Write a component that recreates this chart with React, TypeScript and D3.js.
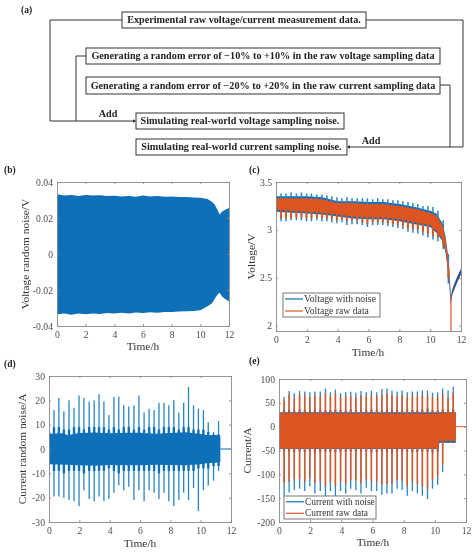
import React, { useEffect, useRef } from "react";
import * as d3 from "d3";

const BLUE = "#0b6fb8";
const ORANGE = "#dd5520";
const serif = "'Liberation Serif', 'Times New Roman', serif";

// pulse times shared by the (c), (d) and (e) traces
const pulseTimes = [0.33, 0.65, 0.98, 1.32, 1.65, 1.98, 2.3, 2.65, 2.98, 3.3, 3.62, 3.95, 4.28, 4.6, 4.93, 5.26, 5.6, 5.93, 6.27, 6.6, 6.93, 7.25, 7.58, 7.9, 8.23, 8.56, 8.88, 9.2, 9.53, 9.85, 10.18, 10.5, 10.85, 11.18];

// (b)
const bTimes = [0, 0.5, 1, 1.5, 2, 2.5, 3, 3.5, 4, 4.5, 5, 5.5, 6, 6.5, 7, 7.5, 8, 8.5, 9, 9.5, 10, 10.5, 10.8, 11, 11.2, 11.35, 11.5, 11.7, 12];
const bTop = [0.0332, 0.0325, 0.0328, 0.0322, 0.0328, 0.0325, 0.0327, 0.0322, 0.0323, 0.032, 0.0322, 0.0318, 0.0325, 0.032, 0.0322, 0.0318, 0.032, 0.0316, 0.0317, 0.0314, 0.0313, 0.0305, 0.029, 0.0275, 0.0245, 0.022, 0.0235, 0.0245, 0.0255];
const bBottom = [-0.0335, -0.033, -0.0337, -0.033, -0.0335, -0.033, -0.0333, -0.0328, -0.033, -0.0326, -0.033, -0.0325, -0.0328, -0.0324, -0.0326, -0.0322, -0.0322, -0.032, -0.0318, -0.0316, -0.0312, -0.029, -0.0275, -0.025, -0.0225, -0.0215, -0.0235, -0.0248, -0.0262];

// (c)
const cTimes = [0, 1, 2, 3, 3.5, 4, 5, 6, 7, 8, 9, 10, 10.4, 10.8, 11, 11.2, 11.35];
const cNoiseTop = [3.35, 3.35, 3.35, 3.34, 3.32, 3.3, 3.3, 3.29, 3.29, 3.27, 3.24, 3.2, 3.17, 3.07, 2.93, 2.68, 2.3];
const cRawTop = [3.33, 3.33, 3.33, 3.32, 3.3, 3.28, 3.28, 3.27, 3.27, 3.25, 3.22, 3.18, 3.15, 3.05, 2.9, 2.65, 2.2];
const cRawBottom = [3.21, 3.2, 3.19, 3.18, 3.17, 3.16, 3.14, 3.13, 3.13, 3.11, 3.08, 3.05, 2.99, 2.9, 2.78, 2.53, 2.2];
const cNoiseBottom = [3.19, 3.18, 3.17, 3.16, 3.15, 3.14, 3.12, 3.11, 3.11, 3.09, 3.06, 3.03, 2.97, 2.88, 2.76, 2.51, 2.2];
const cPulseHigh = [3.38, 3.38, 3.39, 3.38, 3.39, 3.38, 3.38, 3.37, 3.37, 3.36, 3.35, 3.34, 3.33, 3.34, 3.33, 3.33, 3.33, 3.33, 3.32, 3.33, 3.32, 3.32, 3.31, 3.31, 3.3, 3.29, 3.28, 3.27, 3.25, 3.25, 3.24, 3.2, 3.1, 2.75];
const cRawLow = [3.12, 3.12, 3.12, 3.13, 3.13, 3.12, 3.12, 3.13, 3.12, 3.12, 3.11, 3.1, 3.11, 3.09, 3.1, 3.09, 3.08, 3.06, 3.08, 3.08, 3.08, 3.07, 3.06, 3.05, 3.04, 3.01, 3.01, 3, 2.98, 2.96, 2.94, 2.92, 2.84, 2.5];
const cNoiseLow = [3.09, 3.09, 3.1, 3.1, 3.1, 3.09, 3.09, 3.1, 3.09, 3.09, 3.08, 3.07, 3.08, 3.05, 3.06, 3.06, 3.05, 3.03, 3.05, 3.05, 3.05, 3.04, 3.03, 3.02, 3.01, 2.98, 2.97, 2.96, 2.94, 2.92, 2.9, 2.88, 2.8, 2.44];
const cTailTimes = [11.35, 11.4, 11.5, 11.6, 11.7, 11.8, 11.9, 12];
const cTailTop = [2.3, 2.36, 2.41, 2.45, 2.49, 2.53, 2.56, 2.6];
const cTailBottom = [2.24, 2.3, 2.35, 2.39, 2.43, 2.47, 2.5, 2.54];
const cDropTimes = [11.35, 11.35];
const cDropValues = [2.3, 1.944];

// (d)
const dTimes = [0, 0.1, 1, 1.2, 2, 3, 4, 5, 6, 7, 8, 9, 10, 10.5, 11, 11.3];
const dTop = [7.8, 6.3, 6.5, 5.6, 6.6, 6.8, 6.5, 6.7, 6.7, 6.3, 6.6, 6.9, 6.2, 5.6, 5.8, 5.4];
const dBottom = [-7, -6.3, -6.5, -6.5, -6.7, -6.9, -6.6, -6.7, -6.7, -6.5, -6.6, -6.7, -6.3, -5.8, -5.6, -5.2];
const dPulseHigh = [16, 21, 15.5, 20, 17, 22, 21, 19.5, 20, 22.5, 19.5, 14, 21.5, 21.5, 18, 17.5, 18, 22, 15, 16.5, 16, 19, 19, 18, 20, 15, 19, 25.5, 18, 16.5, 16, 11, 7, 11.5];
const dPulseLow = [-19.5, -19.5, -20, -21, -21.5, -23.5, -17, -20.5, -21.5, -19.5, -21.5, -20.5, -18, -15, -17, -15.5, -21, -17, -21.5, -17, -18, -20.5, -18, -21.5, -23.5, -21, -18, -21, -16, -25.5, -17, -15, -13, -9];
const dShoulderHigh = [9, 9, 8, 8, 9, 9, 8, 9, 9, 9, 9, 8, 9, 8, 9, 9, 8, 9, 8, 9, 9, 8, 9, 9, 9, 8, 9, 9, 8, 8, 8, 7, 6, 6];
const dShoulderLow = [-9, -9, -10, -9, -9, -9, -10, -9, -9, -9, -9, -8, -9, -10, -9, -9, -9, -9, -9, -9, -9, -10, -9, -9, -9, -9, -9, -9, -9, -8, -8, -8, -7, -7];
const dTailTimes = [11.3, 12];
const dTailValues = [0, 0];

// (e)
const eTimes = [0, 10.2, 10.3, 11.35];
const eNoiseTop = [30, 30, 30, 30];
const eNoiseBottom = [-47, -47, -34, -34];
const eRawTop = [28, 27, 28, 29];
const eRawBottom = [-46, -46, -30, -30];
const ePulseHigh = [62, 75, 70, 75, 74, 72, 74, 74, 80, 72, 78, 70, 72, 73, 71, 75, 72, 75, 72, 79, 80, 76, 74, 76, 72, 74, 74, 76, 76, 71, 72, 80, 76, 84];
const eRawHigh = [55, 68, 60, 68, 66, 62, 66, 64, 70, 64, 70, 62, 64, 64, 62, 66, 64, 66, 64, 68, 70, 66, 64, 66, 62, 66, 64, 66, 66, 62, 62, 68, 60, 72];
const ePulseLow = [-145, -138, -133, -130, -135, -125, -140, -135, -145, -135, -145, -135, -140, -130, -133, -140, -128, -135, -135, -143, -140, -140, -130, -133, -145, -135, -140, -145, -152, -130, -122, -95, -34, -34];
const eRawLow = [-118, -115, -110, -110, -115, -108, -118, -115, -125, -115, -125, -115, -120, -112, -113, -120, -110, -115, -115, -122, -120, -120, -112, -113, -125, -115, -120, -125, -130, -112, -105, -80, -30, -30];
const eShoulderHigh = [36, 35, 34, 36, 35, 34, 35, 36, 34, 35, 36, 35, 34, 36, 35, 34, 35, 36, 35, 34, 36, 35, 35, 34, 36, 35, 34, 36, 38, 35, 34, 36, 35, 37];
const eShoulderLow = [-53, -52, -54, -52, -53, -52, -54, -53, -52, -53, -54, -52, -53, -52, -54, -53, -52, -54, -53, -52, -53, -54, -52, -53, -52, -54, -53, -52, -53, -54, -52, -34, -34, -34];
const eTailTimes = [11.35, 12];
const eTailValues = [0, 0];

const timeTicks = [0, 2, 4, 6, 8, 10, 12];
const bTicks = [-0.04, -0.02, 0, 0.02, 0.04];
const cTicks = [2, 2.5, 3, 3.5];
const dTicks = [-30, -20, -10, 0, 10, 20, 30];
const eTicks = [-200, -150, -100, -50, 0, 50, 100];

type Box = { left: number; right: number; top: number; bottom: number };
type Sel = d3.Selection<SVGGElement, unknown, null, undefined>;

function makePanel(root: Sel, box: Box, domain: [number, number], ticks: number[], xLabel: [number, number], yLabel: string, yLabelX: number) {
  const x = d3.scaleLinear().domain([0, 12]).range([box.left, box.right]);
  const y = d3.scaleLinear().domain(domain).range([box.bottom, box.top]);
  const g = root.append("g");
  return {
    band(times: number[], top: number[], bottom: number[], color: string) {
      const area = d3.area<number>().x(t => x(t)).y0((_, i) => y(bottom[i])).y1((_, i) => y(top[i]));
      g.append("path").attr("d", area(times)).attr("fill", color);
    },
    pulses(times: number[], from: (t: number) => number, values: number[], color: string, w = 1) {
      times.forEach((t, i) => {
        g.append("line").attr("x1", x(t)).attr("x2", x(t)).attr("y1", y(from(t))).attr("y2", y(values[i]))
          .attr("stroke", color).attr("stroke-width", w);
      });
    },
    trace(times: number[], values: number[], color: string, w = 1) {
      const line = d3.line<number>().x(t => x(t)).y((_, i) => y(values[i]));
      g.append("path").attr("d", line(times)).attr("fill", "none").attr("stroke", color).attr("stroke-width", w);
    },
    frame() {
      const fmt = (d: d3.NumberValue) => `${d}`;
      const axes: [d3.Axis<d3.NumberValue>, number, number][] = [
        [d3.axisBottom(x).tickValues(timeTicks).tickSize(-2).tickPadding(5).tickFormat(fmt), 0, box.bottom],
        [d3.axisTop(x).tickValues(timeTicks).tickSize(-2).tickFormat(() => ""), 0, box.top],
        [d3.axisLeft(y).tickValues(ticks).tickSize(-2).tickPadding(4).tickFormat(fmt), box.left, 0],
        [d3.axisRight(y).tickValues(ticks).tickSize(-2).tickFormat(() => ""), box.right, 0],
      ];
      axes.forEach(([axis, tx, ty]) => {
        const a = g.append("g").attr("transform", `translate(${tx},${ty})`).call(axis as any);
        a.selectAll("path,line").attr("stroke", "#8a8a8a").attr("stroke-width", 0.9);
        a.selectAll("text").attr("fill", "#4a4a4a").style("font-family", serif).style("font-size", "9.7px");
      });
      g.append("text").attr("x", xLabel[0]).attr("y", xLabel[1]).attr("text-anchor", "middle")
        .attr("fill", "#333").style("font-family", serif).style("font-size", "11.4px").text("Time/h");
      g.append("text").attr("transform", `translate(${yLabelX},${(box.top + box.bottom) / 2}) rotate(-90)`)
        .attr("text-anchor", "middle").attr("fill", "#333").style("font-family", serif).style("font-size", "11.4px").text(yLabel);
    },
    legend(b: Box, labels: [string, string], size: number) {
      g.append("rect").attr("x", b.left).attr("y", b.top).attr("width", b.right - b.left).attr("height", b.bottom - b.top)
        .attr("fill", "#fff").attr("stroke", "#555").attr("stroke-width", 0.8);
      const h = (b.bottom - b.top) / 2;
      labels.forEach((s, i) => {
        const ly = b.top + h * (i + 0.5);
        g.append("line").attr("x1", b.left + 2).attr("x2", b.left + 20).attr("y1", ly).attr("y2", ly)
          .attr("stroke", i ? ORANGE : BLUE).attr("stroke-width", 1.2);
        g.append("text").attr("x", b.left + 21).attr("y", ly + 3.2).attr("fill", "#333")
          .style("font-family", serif).style("font-size", `${size}px`).text(s);
      });
    },
  };
}

const flowBoxes: { x0: number; x1: number; y0: number; y1: number; text: string }[] = [
  { x0: 122, x1: 366, y0: 12, y1: 28, text: "Experimental raw voltage/current measurement data." },
  { x0: 86, x1: 440, y0: 48, y1: 64, text: "Generating a random error of \u221210% to +10% in the raw voltage sampling data" },
  { x0: 86, x1: 440, y0: 77, y1: 94, text: "Generating a random error of \u221220% to +20% in the raw current sampling data" },
  { x0: 136, x1: 344, y0: 113, y1: 129, text: "Simulating real-world voltage sampling noise." },
  { x0: 136, x1: 347, y0: 139, y1: 155, text: "Simulating real-world current sampling noise." },
];
const flowLinks: [number, number][][] = [
  [[122, 20], [50, 20], [50, 121], [134, 121]],
  [[86, 56], [76, 56], [76, 121]],
  [[366, 20], [463, 20], [463, 147], [349, 147]],
  [[440, 85], [450, 85], [450, 147]],
];
const panelTags: [string, number, number][] = [
  ["(a)", 21, 13], ["(b)", 4, 173], ["(c)", 249, 173], ["(d)", 4, 367], ["(e)", 249, 364],
];

export default function App() {
  const ref = useRef<SVGSVGElement | null>(null);

  useEffect(() => {
    if (!ref.current) return;
    const svg = d3.select(ref.current);
    svg.selectAll("*").remove();

    // the reference is a soft, low resolution scan
    svg.append("defs").append("filter").attr("id", "soft")
      .attr("x", 0).attr("y", 0).attr("width", 1).attr("height", 1)
      .append("feGaussianBlur").attr("stdDeviation", 0.35);
    const root = svg.append("g").attr("filter", "url(#soft)") as unknown as Sel;
    root.append("rect").attr("width", 474).attr("height", 552).attr("fill", "#fff");

    // (a) flow chart
    const link = d3.line();
    flowLinks.forEach(pts => {
      root.append("path").attr("d", link(pts)).attr("fill", "none").attr("stroke", "#333").attr("stroke-width", 1);
    });
    root.append("path").attr("d", "M136,121l-3,-1.8v3.6z").attr("fill", "#222");
    root.append("path").attr("d", "M347,147l3,-1.8v3.6z").attr("fill", "#222");
    flowBoxes.forEach(b => {
      root.append("rect").attr("x", b.x0).attr("y", b.y0).attr("width", b.x1 - b.x0).attr("height", b.y1 - b.y0)
        .attr("fill", "#fff").attr("stroke", "#333").attr("stroke-width", 1);
      root.append("text").attr("x", (b.x0 + b.x1) / 2).attr("y", (b.y0 + b.y1) / 2 + 3.3).attr("text-anchor", "middle")
        .attr("fill", "#222").style("font-family", serif).style("font-weight", "bold").style("font-size", "10.2px").text(b.text);
    });
    ([["Add", 108, 117], ["Add", 371, 144]] as [string, number, number][]).forEach(([s, tx, ty]) => {
      root.append("text").attr("x", tx).attr("y", ty).attr("text-anchor", "middle").attr("fill", "#222")
        .style("font-family", serif).style("font-weight", "bold").style("font-size", "10.2px").text(s);
    });
    panelTags.forEach(([s, tx, ty]) => {
      root.append("text").attr("x", tx).attr("y", ty).attr("fill", "#222")
        .style("font-family", serif).style("font-weight", "bold").style("font-size", "9.5px").text(s);
    });

    const zero = () => 0;

    // (b)
    const b = makePanel(root, { left: 57, right: 229, top: 182, bottom: 326 }, [-0.04, 0.04], bTicks, [143, 350], "Voltage random noise/V", 29);
    b.band(bTimes, bTop, bBottom, BLUE);
    b.frame();

    // (c)
    const rawMid = d3.scaleLinear().domain(cTimes).range(cRawTop.map((v, i) => (v + cRawBottom[i]) / 2));
    const c = makePanel(root, { left: 276, right: 461, top: 182, bottom: 331 }, [1.944, 3.5], cTicks, [368, 356], "Voltage/V", 255);
    c.band(cTimes, cNoiseTop, cNoiseBottom, BLUE);
    c.pulses(pulseTimes, rawMid, cPulseHigh, "#2a83c6", 1.5);
    c.pulses(pulseTimes, rawMid, cNoiseLow, "#2a83c6", 1.5);
    c.band(cTailTimes, cTailTop, cTailBottom, "#2c4f86");
    c.band(cTimes, cRawTop, cRawBottom, ORANGE);
    c.pulses(pulseTimes, rawMid, cRawLow, ORANGE, 2);
    c.trace(cDropTimes, cDropValues, ORANGE, 1.2);
    c.frame();
    c.legend({ left: 283, right: 380, top: 293, bottom: 317 }, ["Voltage with noise", "Voltage raw data"], 9.7);

    // (d)
    const d = makePanel(root, { left: 49, right: 231, top: 376, bottom: 522 }, [-30, 30], dTicks, [140, 547], "Current random noise/A", 26);
    d.pulses(pulseTimes, zero, dPulseHigh, "#2a83c6", 1.3);
    d.pulses(pulseTimes, zero, dPulseLow, "#2a83c6", 1.3);
    d.pulses(pulseTimes, zero, dShoulderHigh, BLUE, 2.4);
    d.pulses(pulseTimes, zero, dShoulderLow, BLUE, 2.4);
    d.band(dTimes, dTop, dBottom, BLUE);
    d.trace(dTailTimes, dTailValues, BLUE);
    d.frame();

    // (e)
    const e = makePanel(root, { left: 279, right: 466, top: 379, bottom: 522 }, [-200, 100], eTicks, [373, 546], "Current/A", 251);
    e.pulses(pulseTimes, zero, ePulseHigh, "#2a83c6", 1.3);
    e.pulses(pulseTimes, zero, ePulseLow, "#2a83c6", 1.3);
    e.pulses(pulseTimes, zero, eShoulderHigh, "#2b5f95", 2);
    e.pulses(pulseTimes, zero, eShoulderLow, "#2b5f95", 2);
    e.band(eTimes, eNoiseTop, eNoiseBottom, "#1f6aa8");
    e.pulses(pulseTimes, zero, eRawHigh, ORANGE, 1.5);
    e.pulses(pulseTimes, zero, eRawLow, ORANGE, 1.5);
    e.band(eTimes, eRawTop, eRawBottom, ORANGE);
    e.trace(eTailTimes, eTailValues, ORANGE);
    e.frame();
    e.legend({ left: 284, right: 376, top: 496, bottom: 519 }, ["Current with noise", "Current raw data"], 9.4);
  }, []);

  return <svg ref={ref} width={474} height={552} style={{ position: "absolute", left: 0, top: 0, background: "#fff" }} />;
}
